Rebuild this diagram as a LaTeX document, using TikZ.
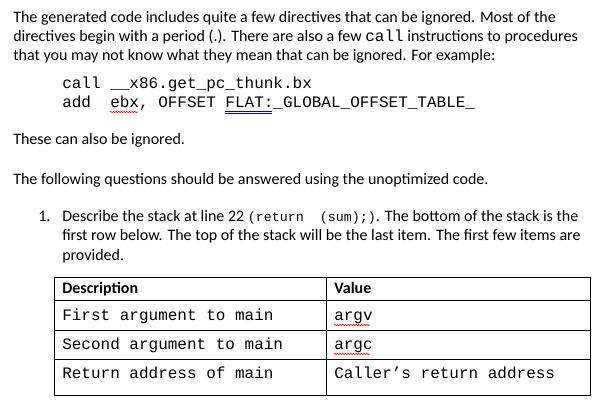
\documentclass[tikz,border=0pt]{standalone}
\usepackage{fontspec}
\setmainfont{Carlito}
\newfontfamily\cour{Liberation Mono}
\usetikzlibrary{decorations.pathmorphing}
\tikzset{x=0.75pt,y=-0.75pt,
 txt/.style={anchor=base west,inner sep=0pt,font=\fontsize{12}{14}\selectfont},
 code/.style={anchor=base west,inner sep=0pt,font=\cour\fontsize{12}{14}\selectfont},
 grid/.style={draw=black,line width=0.75pt},
 wavy/.style={draw=red,line width=0.5pt,decorate,decoration={snake,amplitude=0.5pt,segment length=2pt}}}
\begin{document}
\begin{tikzpicture}
\useasboundingbox (0,0) rectangle (607,406);
\node[txt] (l1) at (13,23) {The generated code includes quite a few directives that can be ignored. Most of the};
\node[txt] (l2) at (13,42) {directives begin with a period (.). There are also a few {\cour call} instructions to procedures};
\node[txt] (l3) at (13,61) {that you may not know what they mean that can be ignored. For example:};
\node[code] (c1) at (62,89) {call \_\_x86.get\_pc\_thunk.bx};
\node[code] (c2) at (62,108) {add{ }{ }ebx, OFFSET FLAT:\_GLOBAL\_OFFSET\_TABLE\_};
\draw[wavy] (110,112) -- (138,112);
\draw[blue!80!black,line width=0.5pt] (225,111) -- (272,111) (225,113) -- (272,113);
\node[txt] (l4) at (13,145) {These can also be ignored.};
\node[txt] (l5) at (13,185) {The following questions should be answered using the unoptimized code.};
\node[txt] (n1) at (38,222) {1.};
\node[txt] (q1) at (62,222) {Describe the stack at line 22 {\cour\fontsize{10}{12}\selectfont(return{ }{ }(sum);)}. The bottom of the stack is the};
\node[txt] (q2) at (62,241) {first row below. The top of the stack will be the last item. The first few items are};
\node[txt] (q3) at (62,261) {provided.};
% table
\draw[grid] (54,277) rectangle (590,395);
\draw[grid] (326,277) -- (326,395);
\draw[grid] (54,300) -- (590,300);
\draw[grid] (54,330) -- (590,330);
\draw[grid] (54,359) -- (590,359);
\node[txt,font=\bfseries\fontsize{12}{14}\selectfont] (h1) at (62,293) {Description};
\node[txt,font=\bfseries\fontsize{12}{14}\selectfont] (h2) at (334,293) {Value};
\node[code] (r1a) at (62,320) {First argument to main};
\node[code] (r1b) at (334,320) {argv};
\draw[wavy] (334,325) -- (370,325);
\node[code] (r2a) at (62,349) {Second argument to main};
\node[code] (r2b) at (334,349) {argc};
\draw[wavy] (334,354) -- (370,354);
\node[code] (r3a) at (62,378) {Return address of main};
\node[code] (r3b) at (334,378) {Caller’s return address};
\end{tikzpicture}
\end{document}
